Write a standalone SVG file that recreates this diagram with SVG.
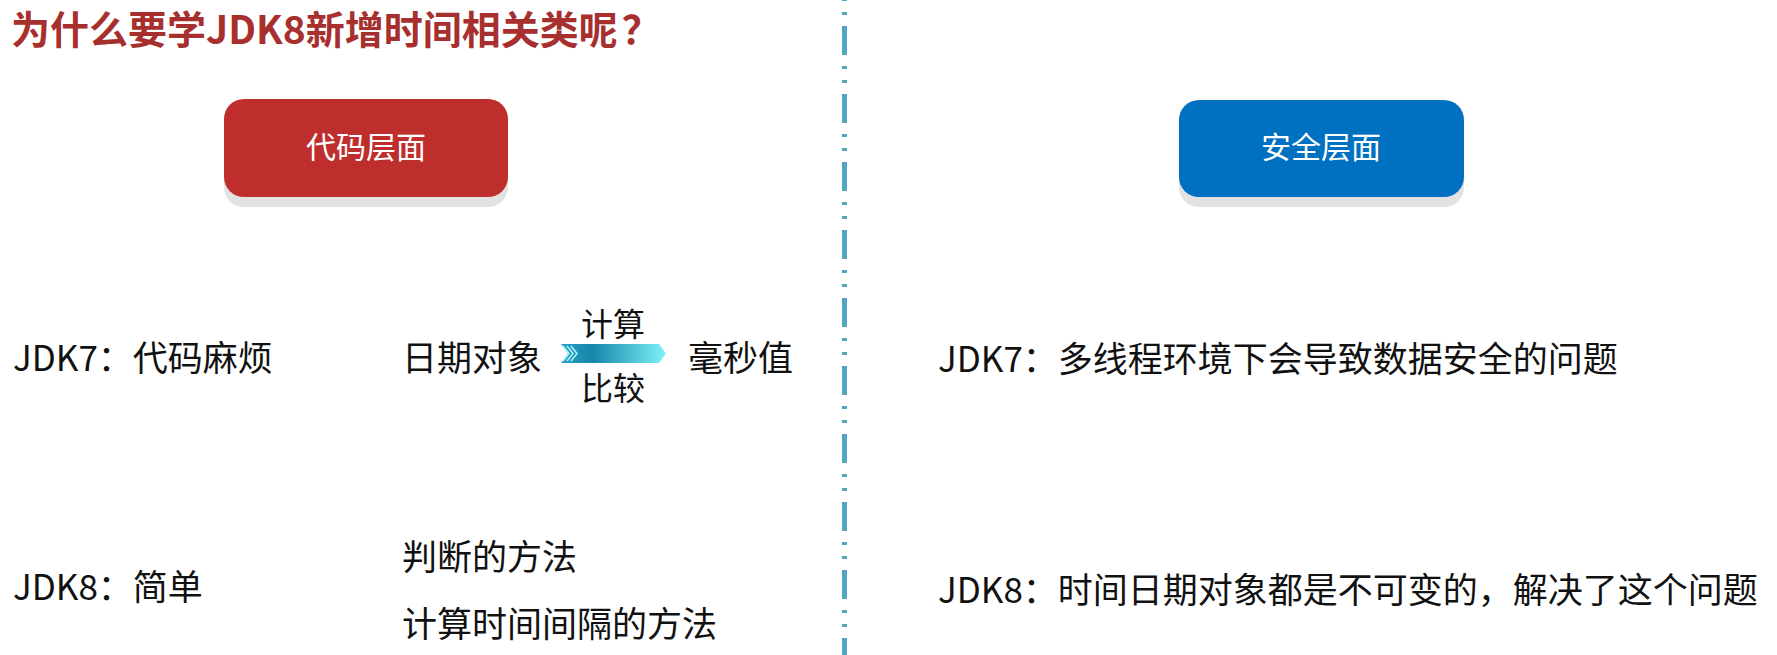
<svg xmlns="http://www.w3.org/2000/svg" width="1777" height="655" viewBox="0 0 1777 655">
<style>
.t{font-family:"Noto Sans CJK SC","Noto Sans",sans-serif;font-size:35px;fill:#111}
.s{font-size:32px}
.btn{font-family:"Noto Sans CJK SC","Noto Sans",sans-serif;font-size:30px;fill:#fff;text-anchor:middle}
.title{font-family:"Noto Sans CJK SC","Noto Sans",sans-serif;font-size:39px;font-weight:bold;fill:#A7302F}
</style>
<defs>
<linearGradient id="ag" x1="0" y1="0" x2="1" y2="0">
<stop offset="0" stop-color="#2a9fc6"/>
<stop offset="0.3" stop-color="#1687aa"/>
<stop offset="1" stop-color="#7ef2f8"/>
</linearGradient>
</defs>
<rect width="1777" height="655" fill="#fff"/>
<g id="title"><text class="title" x="11" y="44">为什么要学JDK8新增时间相关类呢<tspan dx="4">？</tspan></text></g>
<g id="divider"><line x1="844.5" y1="0" x2="844.5" y2="655" stroke="#52A6C2" stroke-width="5" stroke-dasharray="29 11 3 11 3 11" stroke-dashoffset="42"/></g>
<g id="btn-code">
<rect x="224" y="110" width="284" height="97" rx="20" fill="#e2e2e2"/>
<rect x="224" y="99" width="284" height="98" rx="20" fill="#BE2E2C"/>
<text class="btn" x="366" y="158">代码层面</text>
</g>
<g id="btn-safe">
<rect x="1179" y="110" width="285" height="97" rx="20" fill="#e2e2e2"/>
<rect x="1179" y="100" width="285" height="97" rx="20" fill="#0070C0"/>
<text class="btn" x="1321" y="158">安全层面</text>
</g>
<g id="left-jdk7">
<text class="t" x="13" y="371">JDK7：代码麻烦</text>
<text class="t" x="402" y="371">日期对象</text>
<text class="t s" x="613" y="336" text-anchor="middle">计算</text>
<text class="t s" x="613" y="400" text-anchor="middle">比较</text>
<text class="t" x="688" y="371">毫秒值</text>
</g>
<g id="connectors">
<polygon points="561,344 659,344 666,353.5 659,363 561,363 568,353.5" fill="url(#ag)"/>
<polyline points="563,346 569,353.5 563,361" fill="none" stroke="#aef6fb" stroke-width="1.5"/>
<polyline points="567,346 573,353.5 567,361" fill="none" stroke="#aef6fb" stroke-width="1.5"/>
<polyline points="571,346 577,353.5 571,361" fill="none" stroke="#aef6fb" stroke-width="1.5"/>
</g>
<g id="left-jdk8">
<text class="t" x="13" y="600">JDK8：简单</text>
<text class="t" x="402" y="570">判断的方法</text>
<text class="t" x="402" y="637">计算时间间隔的方法</text>
</g>
<g id="right-jdk7"><text class="t" x="938" y="372">JDK7：多线程环境下会导致数据安全的问题</text></g>
<g id="right-jdk8"><text class="t" x="938" y="603">JDK8：时间日期对象都是不可变的，解决了这个问题</text></g>
</svg>
